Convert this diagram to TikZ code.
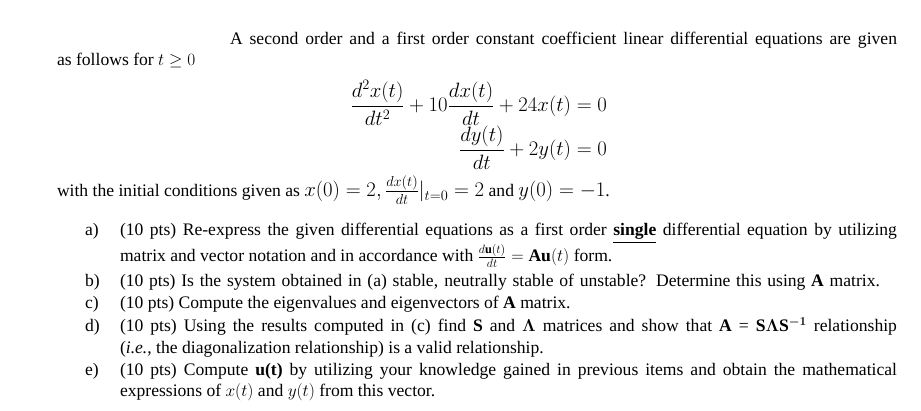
\documentclass[tikz,border=0pt]{standalone}
\usepackage{amsmath}
\usepackage{fontspec}
\setmainfont{Liberation Serif}
\begin{document}
\begin{tikzpicture}[x=1pt,y=1pt,every node/.style={inner sep=0pt,outer sep=0pt},
  ln/.style={anchor=base west,font=\fontsize{17.6}{20}\selectfont}]
\useasboundingbox (0,0) rectangle (921,-411);
\fill[white] (0,0) rectangle (921,-411);
\node[ln] (l1) at (230,-45) {\makebox[667pt][s]{A second order and a first order constant coefficient linear differential equations are given}};
\node[ln] (l2) at (57,-66) {as follows for $t\geq0$};
\node[ln,anchor=east,font=\fontsize{21}{24}\selectfont] (e1) at (607,-103) {$\displaystyle \frac{d^2x(t)}{dt^2}+10\frac{dx(t)}{dt}+24x(t)=0$};
\node[ln,anchor=east,font=\fontsize{21}{24}\selectfont] (e2) at (607,-148) {$\displaystyle \frac{dy(t)}{dt}+2y(t)=0$};
\node[ln] (l3) at (57,-197) {with the initial conditions given as \fontsize{19.5}{22}\selectfont$x(0)=2,\frac{dx(t)}{dt}|_{t=0}=2$\fontsize{17.6}{20}\selectfont{} and \fontsize{19.5}{22}\selectfont$y(0)=-1$\fontsize{17.6}{20}\selectfont.};
\node[ln] (a) at (85,-236) {a)};
\node[ln] (a1) at (120,-236) {\makebox[777pt][s]{(10 pts) Re-express the given differential equations as a first order \textbf{\underline{single}} differential equation by utilizing}};
\node[ln] (a2) at (120,-262) {matrix and vector notation and in accordance with $\frac{d\mathbf{u}(t)}{dt}=\mathbf{A}\mathbf{u}(t)$ form.};
\node[ln] (b) at (85,-287) {b)};
\node[ln] (b1) at (120,-287) {\makebox[760pt][s]{(10 pts) Is the system obtained in (a) stable, neutrally stable of unstable? Determine this using \textbf{A} matrix.}};
\node[ln] (c) at (85,-309) {c)};
\node[ln] (c1) at (120,-309) {(10 pts) Compute the eigenvalues and eigenvectors of \textbf{A} matrix.};
\node[ln] (d) at (85,-332) {d)};
\node[ln] (d1) at (120,-332) {\makebox[777pt][s]{(10 pts) Using the results computed in (c) find \textbf{S} and $\boldsymbol{\Lambda}$ matrices and show that \textbf{A}~=~\textbf{S}$\boldsymbol{\Lambda}$\textbf{S}$^{\boldsymbol{-1}}$ relationship}};
\node[ln] (d2) at (120,-354) {(\textit{i.e.}, the diagonalization relationship) is a valid relationship.};
\node[ln] (e) at (85,-376) {e)};
\node[ln] (e1t) at (120,-376) {\makebox[777pt][s]{(10 pts) Compute \textbf{u(t)} by utilizing your knowledge gained in previous items and obtain the mathematical}};
\node[ln] (e2t) at (120,-397) {expressions of $x(t)$ and $y(t)$ from this vector.};
\end{tikzpicture}
\end{document}
